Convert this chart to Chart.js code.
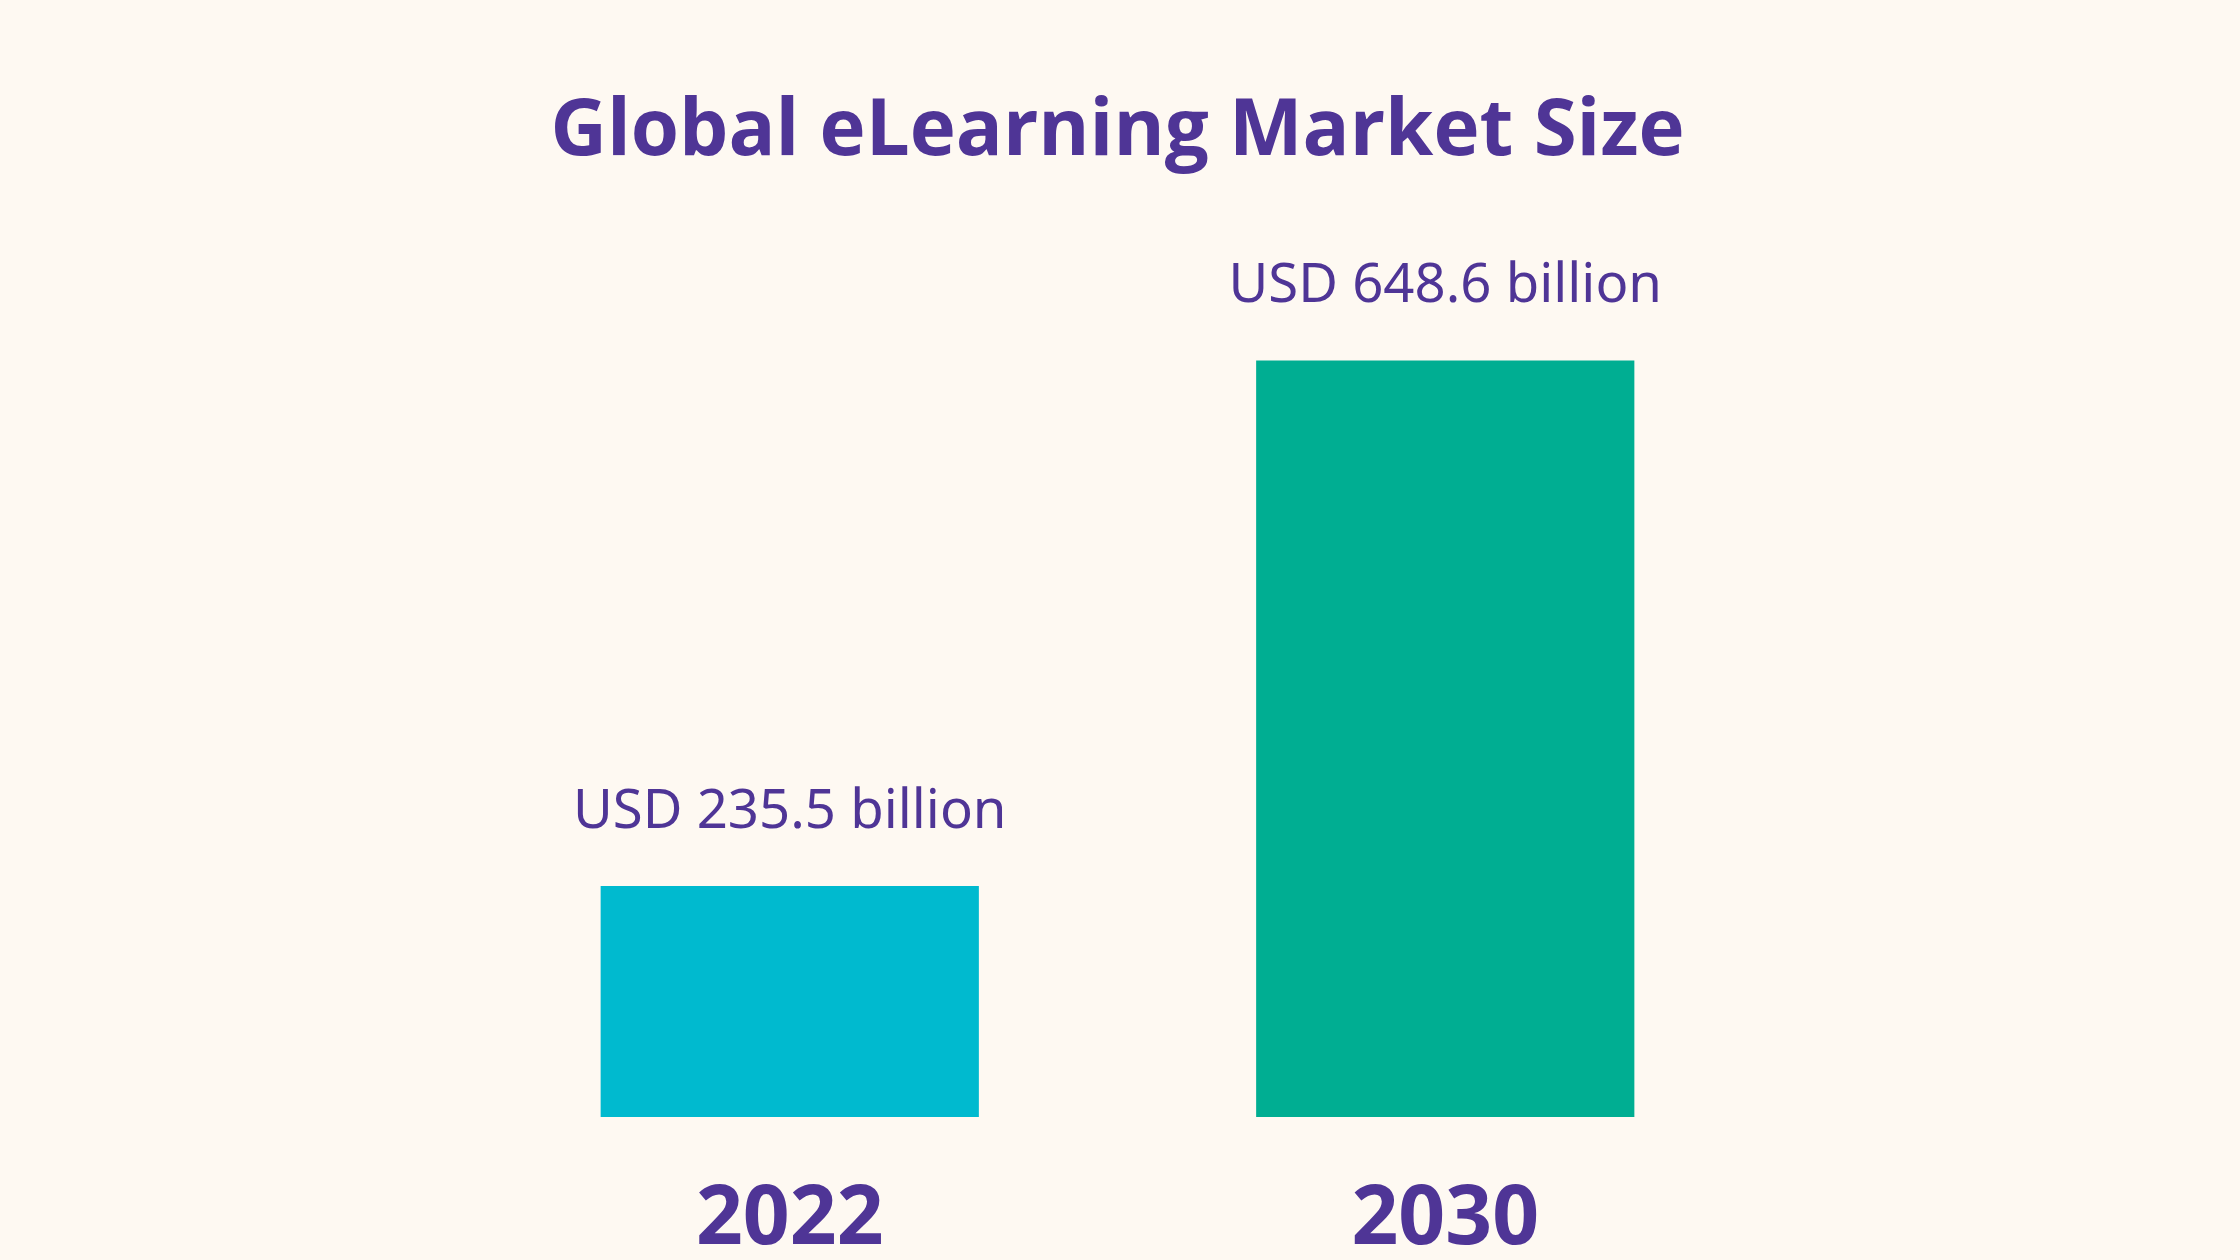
<!DOCTYPE html>
<html>
<head>
<meta charset="utf-8">
<script src="https://cdn.jsdelivr.net/npm/chart.js@4/dist/chart.umd.min.js"></script>
<style>
    html, body { margin: 0; padding: 0; background: #fef9f2; }
    canvas { display: block; }
</style>
</head>
<body>
<canvas id="market-chart" width="2240" height="1260"></canvas>
<script>
const years = ['2022', '2030'];
const marketSize = [235.5, 648.6];
const valueLabels = ['USD 235.5 billion', 'USD 648.6 billion'];
const barColors = ['#00bacf', '#00ae92'];

const purple = '#4f3596';

// writes "USD ... billion" above each bar
const valueLabelPlugin = {
    id: 'valueLabels',
    afterDatasetsDraw(chart) {
        const ctx = chart.ctx;
        const meta = chart.getDatasetMeta(0);
        ctx.save();
        ctx.fillStyle = purple;
        ctx.font = '54.5px "Noto Sans"';
        ctx.textAlign = 'center';
        ctx.textBaseline = 'alphabetic';
        meta.data.forEach((bar, i) => {
            ctx.fillText(valueLabels[i], bar.x, bar.y - 58);
        });
        ctx.restore();
    }
};

new Chart(document.getElementById('market-chart'), {
    type: 'bar',
    data: {
        labels: years,
        datasets: [{
            data: marketSize,
            backgroundColor: barColors,
            borderWidth: 0,
            barPercentage: 1,
            categoryPercentage: 0.577
        }]
    },
    options: {
        responsive: false,
        devicePixelRatio: 1,
        animation: false,
        layout: {
            padding: { left: 462, right: 467, top: 0, bottom: -65 }
        },
        scales: {
            x: {
                grid: { display: false, drawTicks: false },
                border: { display: false },
                ticks: {
                    color: purple,
                    padding: 63,
                    font: { family: '"Open Sans"', size: 82, weight: 'bold', lineHeight: 1 }
                }
            },
            y: {
                display: false,
                min: 54,
                max: 775
            }
        },
        plugins: {
            legend: { display: false },
            tooltip: { enabled: false },
            title: {
                display: true,
                text: 'Global eLearning Market Size',
                color: purple,
                font: { family: '"Open Sans"', size: 78, weight: 'bold', lineHeight: 1.2 },
                padding: { top: 86, bottom: 20 }
            }
        }
    },
    plugins: [valueLabelPlugin]
});
</script>
</body>
</html>
